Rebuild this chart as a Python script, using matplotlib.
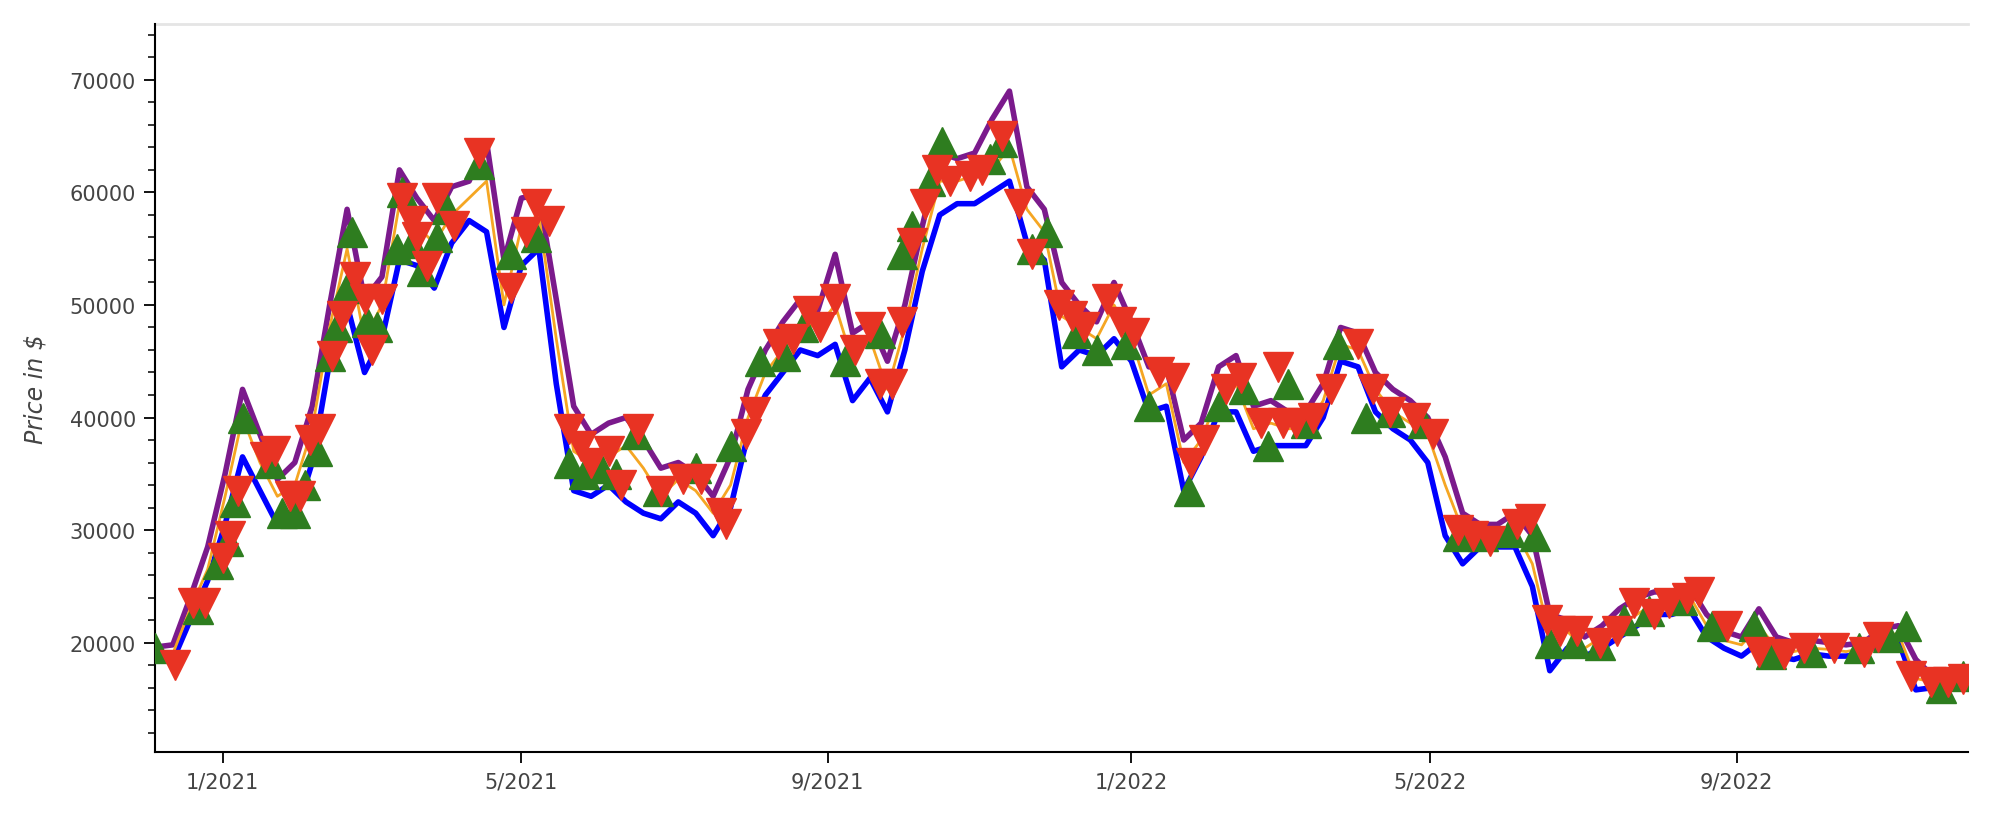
import matplotlib
matplotlib.use("Agg")
import matplotlib.pyplot as plt
import matplotlib.dates as mdates
from matplotlib.ticker import MultipleLocator
import pandas as pd

# --- weekly price data ---
weeks = pd.date_range("2020-12-05", periods=105, freq="7D")
close = [19000, 19000, 23000, 26500, 33000, 40000, 36000, 33000, 34000, 39000,
         48000, 55000, 47000, 50000, 59000, 57000, 55500, 58000, 59500, 61000,
         50000, 57000, 58000, 47000, 37000, 36000, 36500, 37500, 35500, 33000,
         34500, 33500, 31500, 34000, 40000, 44000, 46000, 48500, 48000, 50000,
         45000, 47000, 42500, 48000, 55000, 61000, 61000, 61500, 62000, 64000,
         58500, 56500, 49000, 48000, 47000, 50000, 47000, 42000, 43000, 36000,
         38000, 42000, 43000, 39000, 39500, 39000, 39000, 41500, 46500, 46000,
         42500, 40500, 39500, 38500, 34000, 30000, 29500, 29500, 30000, 27000,
         20500, 21000, 19500, 20500, 21500, 22500, 23500, 23500, 24200, 21500,
         20200, 19800, 21500, 19500, 19200, 19500, 19400, 19200, 19500, 20600,
         20800, 16800, 16500, 16500, 17000]
high = [19600, 19800, 24000, 28500, 35000, 42500, 38500, 34500, 36000, 41000,
        50000, 58500, 50500, 52500, 62000, 59500, 57500, 60500, 61000, 64500,
        54000, 59500, 59800, 50500, 41000, 38500, 39500, 40000, 38000, 35500,
        36000, 35000, 33000, 36500, 42500, 46000, 48500, 50500, 49500, 54500,
        47500, 48500, 45000, 50000, 57000, 63500, 63000, 63500, 66500, 69000,
        60500, 58500, 52000, 50000, 48500, 52000, 48500, 44500, 44500, 38000,
        39500, 44500, 45500, 41000, 41500, 40500, 40500, 43000, 48000, 47500,
        44000, 42500, 41500, 40000, 36500, 31500, 30500, 30500, 31500, 29500,
        22500, 22000, 20500, 21500, 23000, 24000, 24500, 24500, 25000, 22500,
        21000, 20500, 23000, 20500, 20000, 20200, 20000, 19800, 20000, 21200,
        21500, 18500, 17000, 17000, 17300]
low = [18500, 18400, 22000, 25500, 30500, 36500, 33500, 30500, 31000, 36000,
       45000, 50000, 44000, 47000, 54000, 53500, 51500, 55500, 57500, 56500,
       48000, 53500, 55000, 43000, 33500, 33000, 34000, 32500, 31500, 31000,
       32500, 31500, 29500, 32000, 38500, 42000, 44000, 46000, 45500, 46500,
       41500, 43500, 40500, 46000, 53000, 58000, 59000, 59000, 60000, 61000,
       55500, 54000, 44500, 46000, 45500, 47000, 45000, 40500, 41000, 33500,
       36500, 40500, 40500, 37000, 37500, 37500, 37500, 40000, 45000, 44500,
       40500, 39000, 38000, 36000, 29500, 27000, 28500, 28500, 28500, 25000,
       17500, 19500, 18800, 19500, 20500, 21500, 22500, 22500, 23000, 20500,
       19500, 18800, 20000, 18800, 18500, 19000, 18800, 18800, 19000, 20000,
       20200, 15800, 16000, 16000, 16600]

# --- buy / sell signals ---
buy_dates = ["2020-12-05", "2020-12-22", "2020-12-30", "2021-01-03", "2021-01-06", "2021-01-09",
             "2021-01-20", "2021-01-25", "2021-01-30", "2021-02-03", "2021-02-08", "2021-02-13",
             "2021-02-16", "2021-02-20", "2021-02-22", "2021-02-28", "2021-03-04", "2021-03-12",
             "2021-03-14", "2021-03-18", "2021-03-22", "2021-03-28", "2021-04-01", "2021-04-14",
             "2021-04-27", "2021-05-07", "2021-05-20", "2021-05-26", "2021-06-02", "2021-06-08",
             "2021-06-16", "2021-06-25", "2021-07-10", "2021-07-24", "2021-08-05", "2021-08-15",
             "2021-08-22", "2021-09-08", "2021-09-22", "2021-10-01", "2021-10-05", "2021-10-12",
             "2021-10-17", "2021-11-05", "2021-11-10", "2021-11-22", "2021-11-28", "2021-12-10",
             "2021-12-18", "2021-12-30", "2022-01-08", "2022-01-24", "2022-02-05", "2022-02-15",
             "2022-02-25", "2022-03-05", "2022-03-12", "2022-03-25", "2022-04-05", "2022-04-15",
             "2022-04-28", "2022-05-12", "2022-05-22", "2022-06-02", "2022-06-12", "2022-06-18",
             "2022-06-28", "2022-07-08", "2022-07-18", "2022-07-28", "2022-08-10", "2022-08-22",
             "2022-09-08", "2022-09-15", "2022-10-01", "2022-10-20", "2022-11-01", "2022-11-08",
             "2022-11-22", "2022-12-01"]
buy_prices = [19500, 23000, 27000, 29000, 32500, 40000, 36000, 31500, 31500, 34000, 37000, 45500,
              48000, 51500, 56500, 48500, 48000, 55000, 60000, 55500, 53000, 56000, 58500, 62500,
              54500, 56000, 36000, 35000, 35500, 35000, 38500, 33500, 35500, 37500, 45000, 45500,
              48000, 45000, 47500, 54500, 57000, 61000, 64500, 63000, 64500, 55000, 56500, 47500,
              46000, 46500, 41000, 33500, 41000, 42500, 37500, 43000, 39500, 46500, 40000, 40500,
              39500, 29500, 29500, 29800, 29500, 20000, 20000, 19800, 22000, 22800, 23800, 21500,
              21500, 19000, 19200, 19500, 20500, 21500, 16000, 17000]
sell_dates = ["2020-12-13", "2020-12-20", "2020-12-25", "2021-01-01", "2021-01-04", "2021-01-07",
              "2021-01-18", "2021-01-22", "2021-01-28", "2021-02-01", "2021-02-05", "2021-02-09",
              "2021-02-14", "2021-02-18", "2021-02-23", "2021-02-27", "2021-03-02", "2021-03-06",
              "2021-03-14", "2021-03-18", "2021-03-20", "2021-03-24", "2021-03-28", "2021-04-04",
              "2021-04-14", "2021-04-27", "2021-05-03", "2021-05-07", "2021-05-12", "2021-05-20",
              "2021-05-25", "2021-05-29", "2021-06-05", "2021-06-10", "2021-06-17", "2021-06-26",
              "2021-07-05", "2021-07-12", "2021-07-20", "2021-07-22", "2021-07-30", "2021-08-03",
              "2021-08-12", "2021-08-18", "2021-08-24", "2021-08-29", "2021-09-04", "2021-09-12",
              "2021-09-18", "2021-09-22", "2021-09-27", "2021-10-01", "2021-10-05", "2021-10-10",
              "2021-10-15", "2021-10-20", "2021-10-28", "2021-11-02", "2021-11-10", "2021-11-17",
              "2021-11-22", "2021-12-03", "2021-12-08", "2021-12-13", "2021-12-22", "2021-12-28",
              "2022-01-02", "2022-01-12", "2022-01-18", "2022-01-25", "2022-01-30", "2022-02-08",
              "2022-02-14", "2022-02-22", "2022-03-01", "2022-03-03", "2022-03-08", "2022-03-15",
              "2022-03-22", "2022-04-02", "2022-04-08", "2022-04-15", "2022-04-25", "2022-05-02",
              "2022-05-12", "2022-05-18", "2022-05-25", "2022-06-05", "2022-06-10", "2022-06-17",
              "2022-06-22", "2022-06-29", "2022-07-08", "2022-07-15", "2022-07-22", "2022-07-30",
              "2022-08-05", "2022-08-12", "2022-08-17", "2022-08-28", "2022-09-10", "2022-09-20",
              "2022-09-28", "2022-10-10", "2022-10-22", "2022-10-28", "2022-11-10", "2022-11-18",
              "2022-11-25", "2022-12-01"]
sell_prices = [18000, 23500, 23500, 27500, 29500, 33500, 36500, 37000, 33000, 33000, 38000, 39000,
               45500, 49000, 52500, 50500, 46000, 50500, 59500, 57500, 56000, 53500, 59500, 57000,
               63500, 51500, 56500, 59000, 57500, 39000, 37500, 36000, 37000, 34000, 39000, 33500,
               34500, 34500, 31500, 30500, 38500, 40500, 46500, 47000, 49500, 48000, 50500, 46000,
               48000, 43000, 43000, 48500, 55500, 59000, 62000, 61000, 61500, 62000, 65000, 59000,
               54500, 50000, 49000, 48000, 50500, 48500, 47500, 44000, 43500, 36000, 38000, 42500,
               43500, 39500, 44500, 39500, 39500, 40000, 42500, 46500, 42500, 40500, 40000, 38500,
               30000, 29500, 29000, 30500, 31000, 22000, 21000, 21000, 20000, 21000, 23500, 22500,
               23500, 24000, 24500, 21500, 19200, 19000, 19500, 19500, 19200, 20500, 17000, 16500,
               16500, 16800]

fig = plt.figure(figsize=(19.92, 8.2), dpi=100)
ax = fig.add_axes([0.078, 0.082, 0.91, 0.888])

ax.plot(weeks, high, color="#7b1a8c", lw=4, zorder=2)
ax.plot(weeks, low, color="#0000ff", lw=4, zorder=3)
ax.plot(weeks, close, color="#f5a623", lw=2, zorder=4)
ax.plot(pd.to_datetime(buy_dates), buy_prices, "^", ms=22, color="#2e7d1f",
        markeredgecolor="#2e7d1f", zorder=5, linestyle="none")
ax.plot(pd.to_datetime(sell_dates), sell_prices, "v", ms=22, color="#e83323",
        markeredgecolor="#e83323", zorder=6, linestyle="none")

ax.set_xlim(pd.Timestamp("2020-12-05"), pd.Timestamp("2022-12-03"))
ax.set_ylim(10300, 75000)
ax.yaxis.set_major_locator(MultipleLocator(10000))
ax.yaxis.set_minor_locator(MultipleLocator(2000))
ax.xaxis.set_major_locator(mdates.MonthLocator(bymonth=[1, 5, 9]))
ax.xaxis.set_major_formatter(mdates.DateFormatter("%-m/%Y"))

for side in ["top", "right"]:
    ax.spines[side].set_visible(False)
ax.spines["left"].set_linewidth(1.5)
ax.spines["bottom"].set_linewidth(1.5)
ax.tick_params(axis="both", which="major", length=8, width=1.3, labelsize=15, labelcolor="#444444", pad=6)
ax.tick_params(axis="y", which="minor", length=5, width=1.1)
ax.set_ylabel("Price in $", fontsize=17, style="italic", color="#444444", labelpad=16)
# light frame line along the top like the original
ax.axhline(75000, color="#e5e5e5", lw=2, clip_on=False)

fig.savefig("out.png", dpi=100)
